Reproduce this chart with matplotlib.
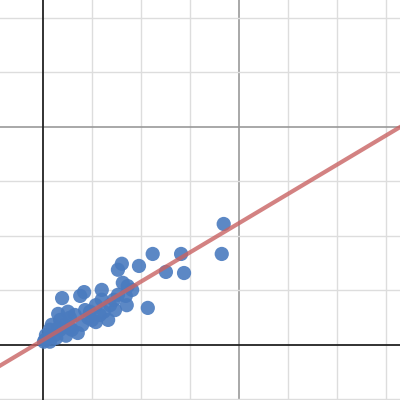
import matplotlib
matplotlib.use("Agg")
import matplotlib.pyplot as plt
import numpy as np

x_vals = [3.69,3.65,2.82,2.24,2.88,2.51,1.96,1.61,1.53,1.63,1.73,2.14,1.69,1.71,1.82,1.20,0.84,0.76,0.39,1.20,
          1.08,1.33,1.08,0.92,0.71,0.31,0.55,0.35,0.14,0.10,0.04,0.24,0.45,0.65,0.86,0.96,1.37,1.47,1.16,0.55,
          0.35,0.18,0.06,0.02,0.14,0.27,0.47,0.59,0.80,1.00,1.24,1.45,1.53,0.51,0.31]
y_vals = [2.22,1.67,1.67,1.67,1.32,1.34,1.45,1.49,1.38,1.14,1.08,0.68,0.90,0.73,1.01,1.01,0.97,0.90,0.86,0.83,
          0.73,0.46,0.42,0.50,0.22,0.57,0.50,0.28,0.28,0.13,0.09,0.18,0.37,0.55,0.64,0.61,0.73,0.64,0.55,0.31,
          0.46,0.37,0.18,0.06,0.06,0.13,0.17,0.28,0.37,0.46,0.61,0.83,0.92,0.61,0.31]
slope = 0.536
intercept = 0.09

fig = plt.figure(figsize=(4, 4), dpi=100)
ax = fig.add_axes([0, 0, 1, 1])
xmin, xmax = -0.878, 7.29
ymin, ymax = -1.01, 6.33
ax.set_xlim(xmin, xmax)
ax.set_ylim(ymin, ymax)
for g in range(-1, 8):
    if g == 0:
        continue
    ax.axvline(g, color='#999999' if g % 4 == 0 else '#dddddd', lw=1.2 if g % 4 == 0 else 1, zorder=0)
for g in range(-1, 7):
    if g == 0:
        continue
    ax.axhline(g, color='#999999' if g % 4 == 0 else '#dddddd', lw=1.2 if g % 4 == 0 else 1, zorder=0)
ax.axvline(0, color='#222222', lw=1.3, zorder=1)
ax.axhline(0, color='#222222', lw=1.3, zorder=1)
ax.scatter(x_vals, y_vals, s=105, color='#4a7bbf', alpha=0.9, edgecolors='none', zorder=2)
xs = np.array([xmin, xmax])
ax.plot(xs, slope * xs + intercept, color='#c96363', lw=3, alpha=0.8, zorder=3)
ax.axis('off')
fig.savefig('out.png', dpi=100)
